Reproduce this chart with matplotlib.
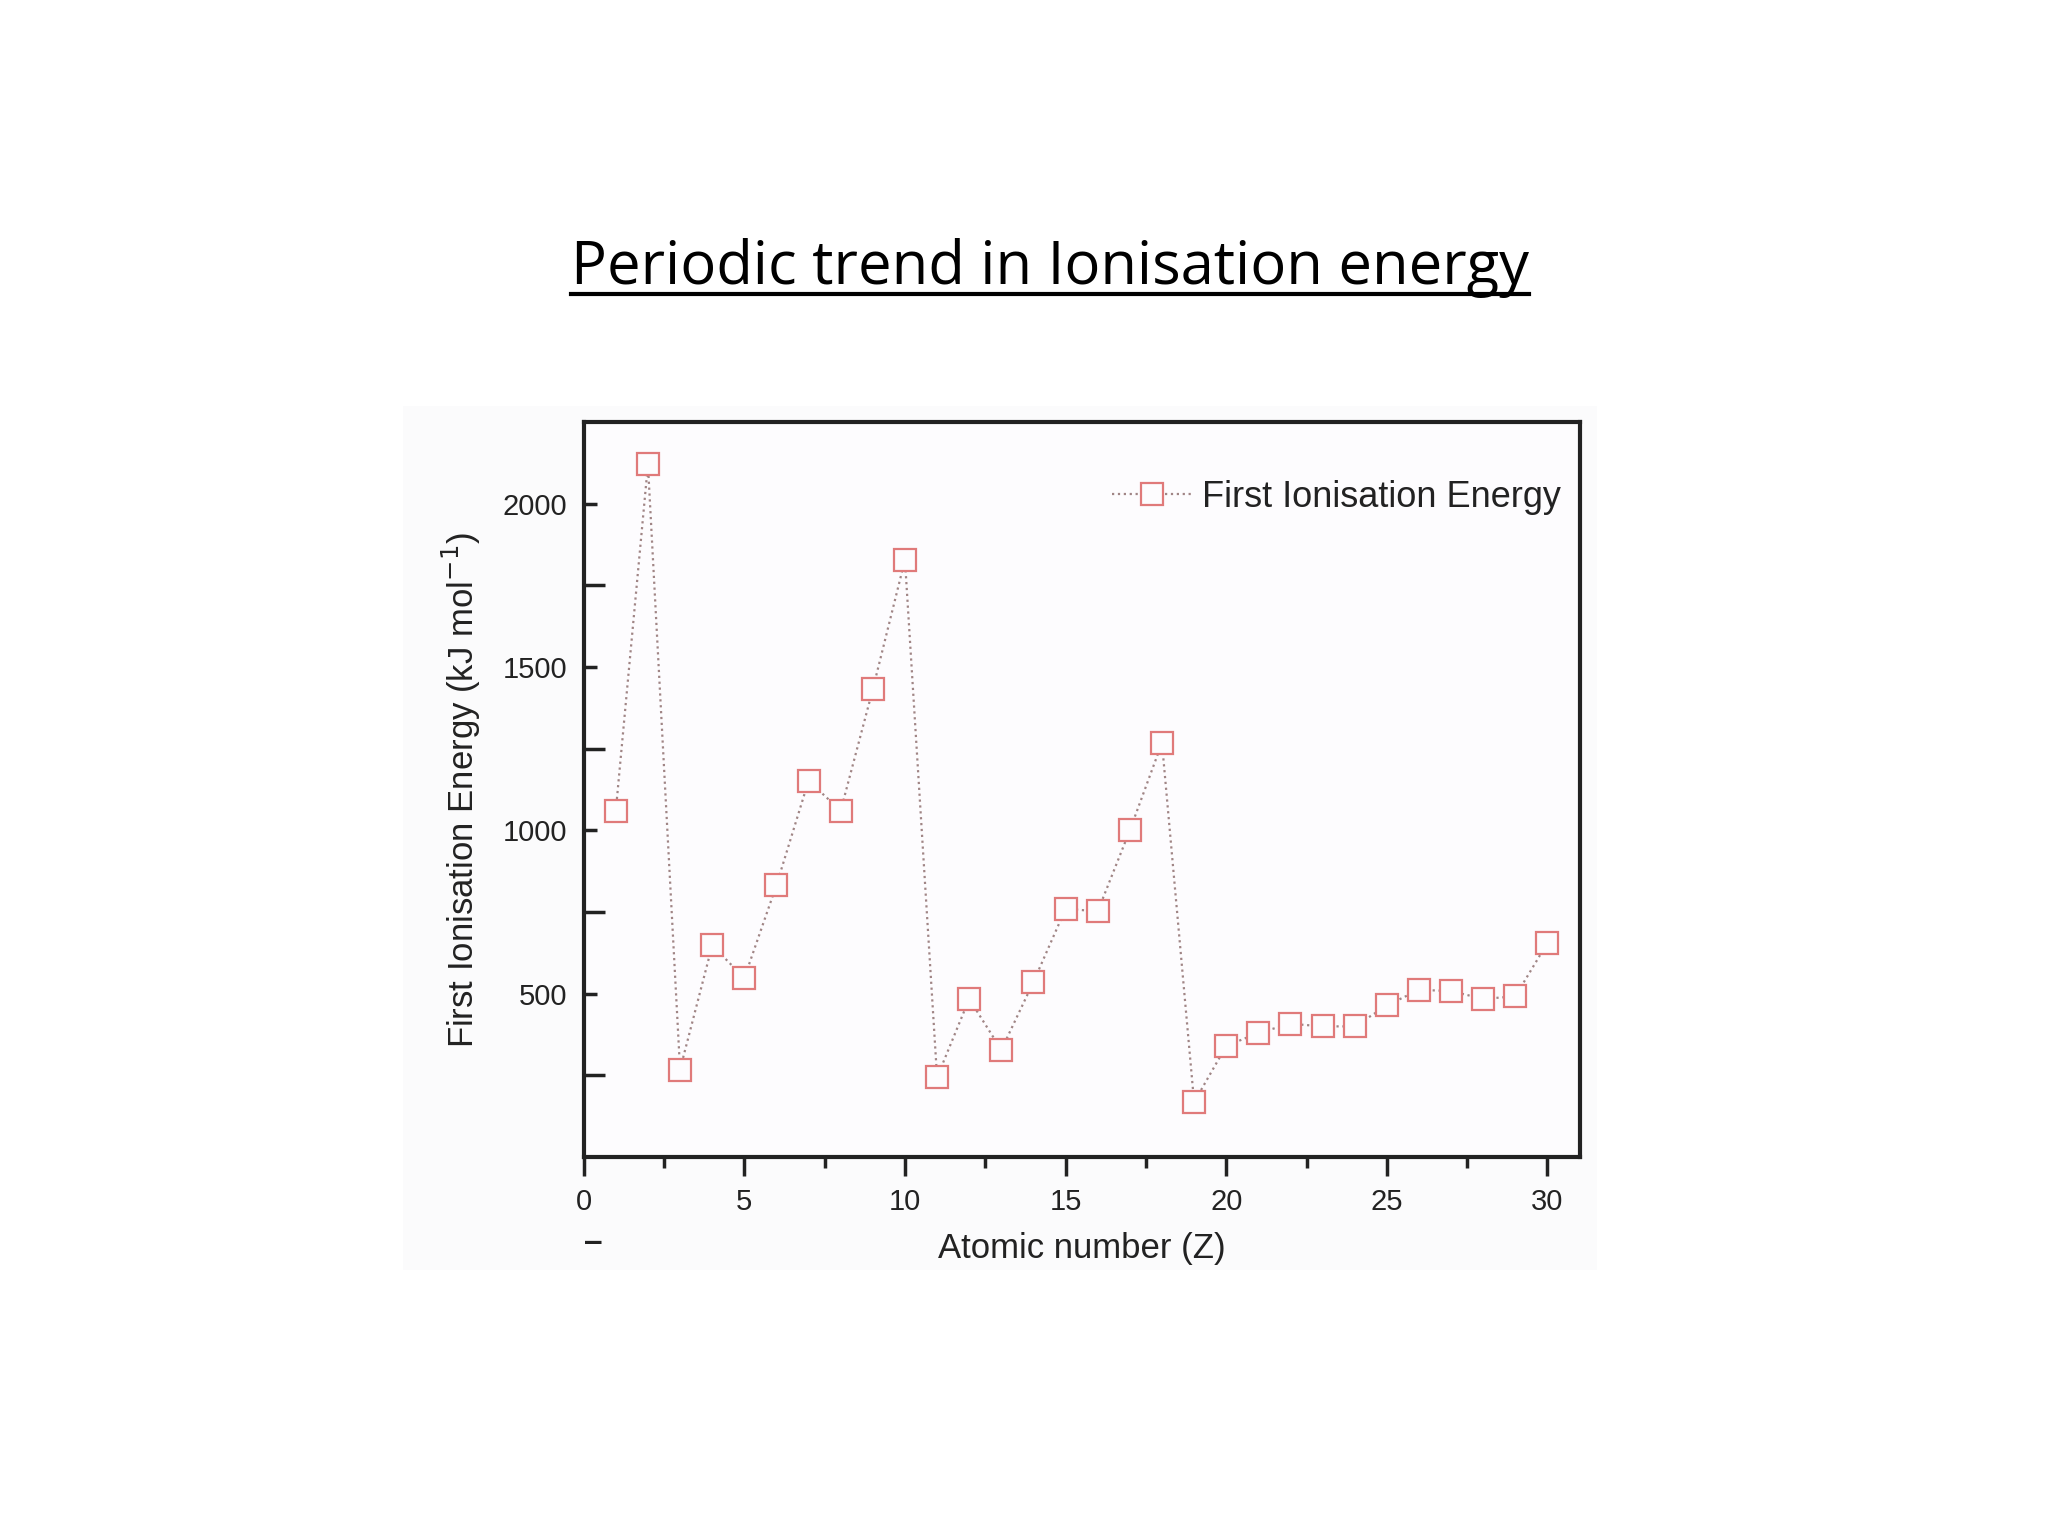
import matplotlib
matplotlib.use("Agg")
import matplotlib.pyplot as plt
from matplotlib.ticker import MultipleLocator
from matplotlib.patches import Rectangle
from matplotlib.lines import Line2D

# values
atomic_number = list(range(1, 31))
ionisation = [1060, 2120, 268, 648, 548, 832, 1152, 1060, 1432, 1828,
              244, 484, 328, 536, 760, 752, 1000, 1268, 168, 340,
              380, 408, 400, 400, 464, 512, 508, 484, 492, 656]

title = "Periodic trend in Ionisation energy"
xlabel = "Atomic number (Z)"
ylabel = "First Ionisation Energy (kJ mol$^{-1}$)"
series_label = "First Ionisation Energy"

plt.rcParams['font.family'] = ['Liberation Sans', 'DejaVu Sans']

fig = plt.figure(figsize = (20.48, 15.36), dpi = 100)
fig.patch.set_facecolor('white')

# pasted picture region, slightly off-white
fig.patches.append(Rectangle((0.197, 0.173), 0.583, 0.563, transform = fig.transFigure,
                             facecolor = '#fbfbfc', edgecolor = 'none', zorder = -5))

ax = fig.add_axes([0.285, 0.2467, 0.4863, 0.4786])
ax.set_zorder(2)
ax.set_facecolor('#fdfcfe')

# hollow squares filled with the background so the dotted line stops at their edges
ax.plot(atomic_number, ionisation, linestyle = ':', color = '#a08585', linewidth = 1.6,
        marker = 's', markersize = 16.5, markerfacecolor = '#fdfcfe',
        markeredgecolor = '#e07a7a', markeredgewidth = 1.6, label = series_label)

ax.set_xlim(0, 31)
ax.set_ylim(0, 2250)

ax.xaxis.set_major_locator(MultipleLocator(5))
ax.xaxis.set_minor_locator(MultipleLocator(2.5))
ax.set_yticks([500, 1000, 1500, 2000])
ax.set_yticks([250, 750, 1250, 1750], minor = True)

ax.tick_params(axis = 'x', which = 'major', direction = 'out', length = 14, width = 2.5,
               labelsize = 21, pad = 8, color = '#222222', labelcolor = '#222222')
ax.tick_params(axis = 'x', which = 'minor', direction = 'out', length = 8, width = 2.5,
               color = '#222222')
ax.tick_params(axis = 'y', which = 'major', direction = 'in', length = 9, width = 2.5,
               labelsize = 21, pad = 12, color = '#222222', labelcolor = '#222222')
ax.tick_params(axis = 'y', which = 'minor', direction = 'in', length = 15, width = 2.5,
               color = '#222222')

for s in ax.spines.values():
  s.set_linewidth(3)
  s.set_color('#222222')

ax.set_xlabel(xlabel, fontsize = 25, color = '#222222', labelpad = 12)
ax.set_ylabel(ylabel, fontsize = 25, color = '#222222', labelpad = 14)

ax.legend(loc = 'upper right', bbox_to_anchor = (1.018, 0.97), frameon = False, fontsize = 26,
          handlelength = 2.2, handletextpad = 0.3, borderaxespad = 0.6, labelcolor = '#222222')

# stray dash below the origin
fig.text(584 / 2048, 1 - 1242 / 1536, "\u2013", fontsize = 24, fontweight = 'bold',
         color = '#222222', ha = 'left', va = 'center')

# underlined slide title
t = fig.text(0.5127, 1 - 284 / 1536, title, fontsize = 43, family = ['Open Sans', 'DejaVu Sans'],
             ha = 'center', va = 'baseline', color = 'black')
fig.canvas.draw()
bb = t.get_window_extent().transformed(fig.transFigure.inverted())
y_line = 1 - 294 / 1536
fig.lines.append(Line2D([bb.x0, bb.x1], [y_line, y_line], transform = fig.transFigure,
                        color = 'black', linewidth = 3))

fig.savefig("out.png", dpi = 100)
plt.close(fig)
